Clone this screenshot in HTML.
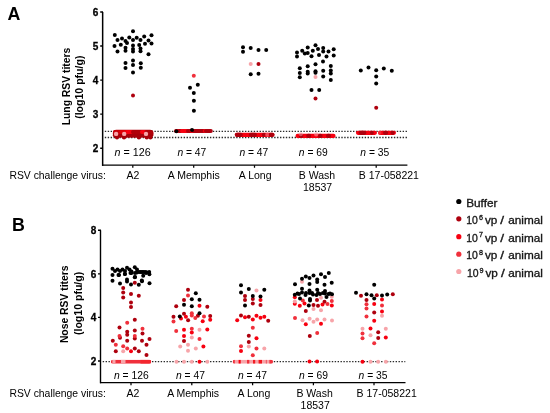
<!DOCTYPE html>
<html><head><meta charset="utf-8"><style>html,body{margin:0;padding:0;background:#fff;width:550px;height:413px;overflow:hidden}svg{display:block;will-change:transform}</style></head>
<body>
<svg width="550" height="413" viewBox="0 0 550 413">
<rect width="550" height="413" fill="#fff"/>
<g font-family="Liberation Sans, sans-serif">
<text x="7.4" y="19.5" font-size="17.8" font-weight="bold">A</text>
<text x="12.0" y="230.7" font-size="17.8" font-weight="bold">B</text>
</g>
<g stroke="#000" stroke-width="1.4" fill="none">
<path d="M102.65 12 V165.85" stroke-width="1.5"/><path d="M102 165.2 H407.4" stroke-width="1.3"/>
<path d="M100.2 12 H103 M100.2 46.05 H103 M100.2 80.1 H103 M100.2 114.15 H103 M100.2 148.2 H103"/>
<path d="M132.8 165.2 V167.8 M193.7 165.2 V167.8 M254.5 165.2 V167.8 M315.5 165.2 V167.8 M376.2 165.2 V167.8" stroke-width="1.25"/>
</g>
<g stroke="#2a2a2a" stroke-width="1.4" stroke-dasharray="1.4 1.52" fill="none">
<path d="M104.8 131.35 H407 M104.8 137.45 H407"/>
</g>
<g font-family="Liberation Sans, sans-serif" font-size="10" font-weight="bold" text-anchor="end" stroke="#000" stroke-width="0.3">
<text x="98.4" y="15.8">6</text><text x="98.4" y="49.8">5</text><text x="98.4" y="83.9">4</text><text x="98.4" y="117.9">3</text><text x="98.4" y="151.9">2</text>
</g>
<g font-family="Liberation Sans, sans-serif" font-size="10.2" font-weight="bold" text-anchor="middle">
<text transform="translate(70.3 86.5) rotate(-90)" font-size="10.35">Lung RSV titers</text>
<text transform="translate(82.9 87.2) rotate(-90)" font-size="10.55">(log10 pfu/g)</text>
</g>
<g font-family="Liberation Sans, sans-serif" font-size="10.5">
<text x="9.4" y="178.6" font-size="10.4">RSV challenge virus:</text>
<text x="114.6" y="156.2" font-size="10.3" textLength="36.1" lengthAdjust="spacingAndGlyphs"><tspan font-style="italic">n</tspan> = 126</text>
<text x="177.4" y="156.2" font-size="10.3"><tspan font-style="italic">n</tspan> = 47</text>
<text x="239.4" y="156.2" font-size="10.3"><tspan font-style="italic">n</tspan> = 47</text>
<text x="298.8" y="156.2" font-size="10.3"><tspan font-style="italic">n</tspan> = 69</text>
<text x="360.3" y="156.2" font-size="10.3"><tspan font-style="italic">n</tspan> = 35</text>
<text x="126.6" y="178.5">A2</text>
<text x="167.8" y="178.5">A Memphis</text>
<text x="238.8" y="178.5">A Long</text>
<text x="298.8" y="178.5">B Wash</text>
<text x="303.0" y="191">18537</text>
<text x="358.8" y="178.5">B 17-058221</text>
</g>
<rect x="112.8" y="129.8" width="40.8" height="7.6" rx="3.6" fill="#b4000c"/>
<circle cx="115.0" cy="135.3" r="2.1" fill="#a8000a"/>
<circle cx="116.5" cy="135.3" r="2.1" fill="#a8000a"/>
<circle cx="118.0" cy="135.3" r="2.1" fill="#a8000a"/>
<circle cx="119.5" cy="135.3" r="2.1" fill="#a8000a"/>
<circle cx="121.0" cy="135.3" r="2.1" fill="#a8000a"/>
<circle cx="122.5" cy="135.3" r="2.1" fill="#a8000a"/>
<circle cx="124.0" cy="135.3" r="2.1" fill="#a8000a"/>
<circle cx="125.5" cy="135.3" r="2.1" fill="#a8000a"/>
<circle cx="127.0" cy="135.3" r="2.1" fill="#a8000a"/>
<circle cx="128.5" cy="135.3" r="2.1" fill="#a8000a"/>
<circle cx="130.0" cy="135.3" r="2.1" fill="#a8000a"/>
<circle cx="131.5" cy="135.3" r="2.1" fill="#a8000a"/>
<circle cx="133.0" cy="135.3" r="2.1" fill="#a8000a"/>
<circle cx="134.5" cy="135.3" r="2.1" fill="#a8000a"/>
<circle cx="136.0" cy="135.3" r="2.1" fill="#a8000a"/>
<circle cx="137.5" cy="135.3" r="2.1" fill="#a8000a"/>
<circle cx="139.0" cy="135.3" r="2.1" fill="#a8000a"/>
<circle cx="140.5" cy="135.3" r="2.1" fill="#a8000a"/>
<circle cx="142.0" cy="135.3" r="2.1" fill="#a8000a"/>
<circle cx="143.5" cy="135.3" r="2.1" fill="#a8000a"/>
<circle cx="145.0" cy="135.3" r="2.1" fill="#a8000a"/>
<circle cx="146.5" cy="135.3" r="2.1" fill="#a8000a"/>
<circle cx="148.0" cy="135.3" r="2.1" fill="#a8000a"/>
<circle cx="149.5" cy="135.3" r="2.1" fill="#a8000a"/>
<circle cx="151.0" cy="135.3" r="2.1" fill="#a8000a"/>
<circle cx="117.0" cy="137.4" r="2.1" fill="#a8000a"/>
<circle cx="124.0" cy="137.4" r="2.1" fill="#a8000a"/>
<circle cx="138.9" cy="137.4" r="2.1" fill="#a8000a"/>
<circle cx="146.8" cy="137.4" r="2.1" fill="#a8000a"/>
<circle cx="150.4" cy="137.4" r="2.1" fill="#a8000a"/>
<circle cx="115.0" cy="131.9" r="2.0" fill="#c8000c"/>
<circle cx="116.5" cy="131.9" r="2.0" fill="#c8000c"/>
<circle cx="118.0" cy="131.9" r="2.0" fill="#c8000c"/>
<circle cx="119.5" cy="131.9" r="2.0" fill="#c8000c"/>
<circle cx="121.0" cy="131.9" r="2.0" fill="#e00008"/>
<circle cx="122.5" cy="131.9" r="2.0" fill="#e00008"/>
<circle cx="124.0" cy="131.9" r="2.0" fill="#e00008"/>
<circle cx="125.5" cy="131.9" r="2.0" fill="#e00008"/>
<circle cx="127.0" cy="131.9" r="2.0" fill="#f70010"/>
<circle cx="128.5" cy="131.9" r="2.0" fill="#f70010"/>
<circle cx="130.0" cy="131.9" r="2.0" fill="#f70010"/>
<circle cx="131.5" cy="131.9" r="2.0" fill="#f70010"/>
<circle cx="133.0" cy="131.9" r="2.0" fill="#b0000a"/>
<circle cx="134.5" cy="131.9" r="2.0" fill="#b0000a"/>
<circle cx="136.0" cy="131.9" r="2.0" fill="#b0000a"/>
<circle cx="137.5" cy="131.9" r="2.0" fill="#b0000a"/>
<circle cx="139.0" cy="131.9" r="2.0" fill="#b0000a"/>
<circle cx="140.5" cy="131.9" r="2.0" fill="#b0000a"/>
<circle cx="142.0" cy="131.9" r="2.0" fill="#f70010"/>
<circle cx="143.5" cy="131.9" r="2.0" fill="#f70010"/>
<circle cx="145.0" cy="131.9" r="2.0" fill="#f70010"/>
<circle cx="146.5" cy="131.9" r="2.0" fill="#b0000a"/>
<circle cx="148.0" cy="131.9" r="2.0" fill="#b0000a"/>
<circle cx="149.5" cy="131.9" r="2.0" fill="#b0000a"/>
<circle cx="151.0" cy="131.9" r="2.0" fill="#b0000a"/>
<circle cx="116.1" cy="133.9" r="2.2" fill="#f7a4a9"/>
<circle cx="124.2" cy="133.9" r="2.2" fill="#f7a4a9"/>
<circle cx="146.0" cy="133.9" r="2.2" fill="#f7a4a9"/>
<circle cx="176.0" cy="131.1" r="2.0" fill="#f70010"/>
<circle cx="177.2" cy="131.1" r="2.0" fill="#f70010"/>
<circle cx="178.4" cy="131.1" r="2.0" fill="#f70010"/>
<circle cx="179.6" cy="131.1" r="2.0" fill="#ae000e"/>
<circle cx="180.8" cy="131.1" r="2.0" fill="#ae000e"/>
<circle cx="182.0" cy="131.1" r="2.0" fill="#f70010"/>
<circle cx="183.2" cy="131.1" r="2.0" fill="#f70010"/>
<circle cx="184.4" cy="131.1" r="2.0" fill="#f70010"/>
<circle cx="185.6" cy="131.1" r="2.0" fill="#f70010"/>
<circle cx="186.8" cy="131.1" r="2.0" fill="#f70010"/>
<circle cx="188.0" cy="131.1" r="2.0" fill="#ae000e"/>
<circle cx="189.2" cy="131.1" r="2.0" fill="#ae000e"/>
<circle cx="190.4" cy="131.1" r="2.0" fill="#ae000e"/>
<circle cx="191.6" cy="131.1" r="2.0" fill="#f70010"/>
<circle cx="192.8" cy="131.1" r="2.0" fill="#f70010"/>
<circle cx="194.0" cy="131.1" r="2.0" fill="#ae000e"/>
<circle cx="195.2" cy="131.1" r="2.0" fill="#ae000e"/>
<circle cx="196.4" cy="131.1" r="2.0" fill="#ae000e"/>
<circle cx="197.6" cy="131.1" r="2.0" fill="#ae000e"/>
<circle cx="198.8" cy="131.1" r="2.0" fill="#ae000e"/>
<circle cx="200.0" cy="131.1" r="2.0" fill="#ae000e"/>
<circle cx="201.2" cy="131.1" r="2.0" fill="#ae000e"/>
<circle cx="202.4" cy="131.1" r="2.0" fill="#ae000e"/>
<circle cx="203.6" cy="131.1" r="2.0" fill="#ae000e"/>
<circle cx="204.8" cy="131.1" r="2.0" fill="#f70010"/>
<circle cx="206.0" cy="131.1" r="2.0" fill="#ae000e"/>
<circle cx="207.2" cy="131.1" r="2.0" fill="#ae000e"/>
<circle cx="208.4" cy="131.1" r="2.0" fill="#ae000e"/>
<circle cx="209.6" cy="131.1" r="2.0" fill="#ae000e"/>
<circle cx="210.8" cy="131.1" r="2.0" fill="#ae000e"/>
<circle cx="176.4" cy="131.2" r="2.0" fill="#000"/>
<circle cx="192.0" cy="130.0" r="2.0" fill="#000"/>
<rect x="234.8" y="132.70" width="39.70" height="4.2" rx="2.1" fill="#f70010"/>
<rect x="234.8" y="132.70" width="7.90" height="4.2" rx="2.1" fill="#ae000e"/>
<rect x="248.8" y="132.70" width="8.20" height="4.2" rx="2.1" fill="#ae000e"/>
<rect x="261.8" y="132.70" width="4.00" height="4.2" rx="2.1" fill="#ae000e"/>
<rect x="265.2" y="132.70" width="4.20" height="4.2" rx="2.1" fill="#f34a58"/>
<rect x="268.8" y="132.70" width="5.70" height="4.2" rx="2.1" fill="#ae000e"/>
<rect x="295.5" y="133.80" width="40.10" height="4.2" rx="2.1" fill="#f70010"/>
<rect x="298.8" y="133.80" width="4.60" height="4.2" rx="2.1" fill="#ae000e"/>
<rect x="306.2" y="133.80" width="5.00" height="4.2" rx="2.1" fill="#ae000e"/>
<rect x="317.8" y="133.80" width="4.80" height="4.2" rx="2.1" fill="#ae000e"/>
<rect x="326" y="133.80" width="5.00" height="4.2" rx="2.1" fill="#ae000e"/>
<circle cx="300.8" cy="134.2" r="2.0" fill="rgba(248,150,160,0.55)"/>
<circle cx="316.2" cy="134.4" r="2.1" fill="rgba(248,150,160,0.6)"/>
<rect x="355.9" y="130.70" width="21.10" height="4.2" rx="2.1" fill="#f70010"/>
<rect x="358.5" y="130.70" width="7.90" height="4.2" rx="2.1" fill="#ae000e"/>
<rect x="369.9" y="130.70" width="3.90" height="4.2" rx="2.1" fill="#ae000e"/>
<rect x="378.0" y="130.70" width="18.00" height="4.2" rx="2.1" fill="#f70010"/>
<rect x="378.0" y="130.70" width="3.50" height="4.2" rx="2.1" fill="#f42a36"/>
<rect x="383" y="130.70" width="5.20" height="4.2" rx="2.1" fill="#ae000e"/>
<rect x="390.4" y="130.70" width="4.40" height="4.2" rx="2.1" fill="#ae000e"/>
<circle cx="133.0" cy="95.5" r="2.0" fill="#ae000e"/>
<circle cx="193.8" cy="75.7" r="2.0" fill="#f0303c"/>
<circle cx="250.7" cy="64.0" r="2.0" fill="#f7a4a9"/>
<circle cx="258.5" cy="64.0" r="2.0" fill="#ae000e"/>
<circle cx="315.5" cy="77.0" r="2.0" fill="#f7a4a9"/>
<circle cx="315.5" cy="98.5" r="2.0" fill="#ae000e"/>
<circle cx="376.2" cy="107.7" r="2.0" fill="#ae000e"/>
<circle cx="133.0" cy="31.2" r="2.0" fill="#000"/>
<circle cx="114.8" cy="35.0" r="2.0" fill="#000"/>
<circle cx="151.5" cy="35.3" r="2.0" fill="#000"/>
<circle cx="117.5" cy="40.0" r="2.0" fill="#000"/>
<circle cx="122.0" cy="38.5" r="2.0" fill="#000"/>
<circle cx="129.3" cy="37.5" r="2.0" fill="#000"/>
<circle cx="136.7" cy="37.8" r="2.0" fill="#000"/>
<circle cx="144.2" cy="36.5" r="2.0" fill="#000"/>
<circle cx="125.5" cy="41.0" r="2.0" fill="#000"/>
<circle cx="127.0" cy="43.0" r="2.0" fill="#000"/>
<circle cx="133.0" cy="40.0" r="2.0" fill="#000"/>
<circle cx="140.5" cy="40.0" r="2.0" fill="#000"/>
<circle cx="148.5" cy="40.5" r="2.0" fill="#000"/>
<circle cx="145.0" cy="43.8" r="2.0" fill="#000"/>
<circle cx="151.5" cy="43.5" r="2.0" fill="#000"/>
<circle cx="114.5" cy="46.0" r="2.0" fill="#000"/>
<circle cx="120.8" cy="44.7" r="2.0" fill="#000"/>
<circle cx="133.0" cy="45.5" r="2.0" fill="#000"/>
<circle cx="139.2" cy="45.0" r="2.0" fill="#000"/>
<circle cx="125.5" cy="47.8" r="2.0" fill="#000"/>
<circle cx="125.5" cy="50.8" r="2.0" fill="#000"/>
<circle cx="133.0" cy="49.0" r="2.0" fill="#000"/>
<circle cx="133.0" cy="51.5" r="2.0" fill="#000"/>
<circle cx="140.5" cy="48.5" r="2.0" fill="#000"/>
<circle cx="140.5" cy="51.2" r="2.0" fill="#000"/>
<circle cx="117.5" cy="51.5" r="2.0" fill="#000"/>
<circle cx="148.5" cy="54.3" r="2.0" fill="#000"/>
<circle cx="133.0" cy="60.5" r="2.0" fill="#000"/>
<circle cx="125.5" cy="63.0" r="2.0" fill="#000"/>
<circle cx="140.8" cy="63.3" r="2.0" fill="#000"/>
<circle cx="133.0" cy="65.0" r="2.0" fill="#000"/>
<circle cx="125.5" cy="68.0" r="2.0" fill="#000"/>
<circle cx="140.8" cy="67.7" r="2.0" fill="#000"/>
<circle cx="133.0" cy="72.5" r="2.0" fill="#000"/>
<circle cx="197.8" cy="84.8" r="2.0" fill="#000"/>
<circle cx="190.0" cy="87.7" r="2.0" fill="#000"/>
<circle cx="193.8" cy="93.0" r="2.0" fill="#000"/>
<circle cx="193.9" cy="100.7" r="2.0" fill="#000"/>
<circle cx="193.9" cy="110.8" r="2.0" fill="#000"/>
<circle cx="243.0" cy="47.2" r="2.0" fill="#000"/>
<circle cx="243.0" cy="51.8" r="2.0" fill="#000"/>
<circle cx="250.7" cy="48.0" r="2.0" fill="#000"/>
<circle cx="258.5" cy="50.0" r="2.0" fill="#000"/>
<circle cx="266.2" cy="50.0" r="2.0" fill="#000"/>
<circle cx="250.7" cy="74.2" r="2.0" fill="#000"/>
<circle cx="258.5" cy="73.8" r="2.0" fill="#000"/>
<circle cx="315.5" cy="45.2" r="2.0" fill="#000"/>
<circle cx="307.7" cy="47.5" r="2.0" fill="#000"/>
<circle cx="323.2" cy="48.0" r="2.0" fill="#000"/>
<circle cx="318.0" cy="49.0" r="2.0" fill="#000"/>
<circle cx="333.7" cy="49.2" r="2.0" fill="#000"/>
<circle cx="302.2" cy="50.8" r="2.0" fill="#000"/>
<circle cx="297.0" cy="52.5" r="2.0" fill="#000"/>
<circle cx="312.8" cy="50.8" r="2.0" fill="#000"/>
<circle cx="304.8" cy="53.5" r="2.0" fill="#000"/>
<circle cx="307.7" cy="53.0" r="2.0" fill="#000"/>
<circle cx="323.2" cy="51.5" r="2.0" fill="#000"/>
<circle cx="328.5" cy="51.5" r="2.0" fill="#000"/>
<circle cx="297.0" cy="56.5" r="2.0" fill="#000"/>
<circle cx="311.5" cy="56.2" r="2.0" fill="#000"/>
<circle cx="319.0" cy="55.0" r="2.0" fill="#000"/>
<circle cx="326.5" cy="56.5" r="2.0" fill="#000"/>
<circle cx="333.7" cy="55.5" r="2.0" fill="#000"/>
<circle cx="323.0" cy="61.5" r="2.0" fill="#000"/>
<circle cx="315.5" cy="64.2" r="2.0" fill="#000"/>
<circle cx="307.7" cy="66.2" r="2.0" fill="#000"/>
<circle cx="330.8" cy="66.0" r="2.0" fill="#000"/>
<circle cx="299.8" cy="68.3" r="2.0" fill="#000"/>
<circle cx="299.8" cy="73.0" r="2.0" fill="#000"/>
<circle cx="299.8" cy="77.2" r="2.0" fill="#000"/>
<circle cx="307.7" cy="71.8" r="2.0" fill="#000"/>
<circle cx="307.7" cy="73.5" r="2.0" fill="#000"/>
<circle cx="315.5" cy="71.2" r="2.0" fill="#000"/>
<circle cx="315.5" cy="72.8" r="2.0" fill="#000"/>
<circle cx="323.2" cy="70.8" r="2.0" fill="#000"/>
<circle cx="323.2" cy="76.5" r="2.0" fill="#000"/>
<circle cx="330.8" cy="70.5" r="2.0" fill="#000"/>
<circle cx="330.8" cy="73.5" r="2.0" fill="#000"/>
<circle cx="330.8" cy="80.0" r="2.0" fill="#000"/>
<circle cx="311.5" cy="90.0" r="2.0" fill="#000"/>
<circle cx="319.2" cy="90.0" r="2.0" fill="#000"/>
<circle cx="360.8" cy="70.5" r="2.0" fill="#000"/>
<circle cx="368.5" cy="67.5" r="2.0" fill="#000"/>
<circle cx="376.2" cy="70.2" r="2.0" fill="#000"/>
<circle cx="383.8" cy="68.5" r="2.0" fill="#000"/>
<circle cx="391.8" cy="70.7" r="2.0" fill="#000"/>
<circle cx="376.2" cy="76.5" r="2.0" fill="#000"/>
<circle cx="376.2" cy="83.5" r="2.0" fill="#000"/>
<g stroke="#000" stroke-width="1.4" fill="none">
<path d="M100.5 230.3 V383.25"/><path d="M100 382.6 H405.5" stroke-width="1.3"/>
<path d="M98 230.3 H101 M98 273.9 H101 M98 317.4 H101 M98 361.0 H101"/>
<path d="M131 382.6 V385.2 M191.8 382.6 V385.2 M252.6 382.6 V385.2 M313.4 382.6 V385.2 M374 382.6 V385.2" stroke-width="1.25"/>
</g>
<g stroke="#2a2a2a" stroke-width="1.4" stroke-dasharray="1.4 1.5" fill="none">
<path d="M102.7 361.6 H405.3"/>
</g>
<g font-family="Liberation Sans, sans-serif" font-size="10" font-weight="bold" text-anchor="end" stroke="#000" stroke-width="0.3">
<text x="96.4" y="234">8</text><text x="96.4" y="277.6">6</text><text x="96.4" y="321.1">4</text><text x="96.4" y="364.7">2</text>
</g>
<g font-family="Liberation Sans, sans-serif" font-size="10.2" font-weight="bold" text-anchor="middle">
<text transform="translate(68.1 304.3) rotate(-90)" font-size="10.35">Nose RSV titers</text>
<text transform="translate(81.8 303.4) rotate(-90)" font-size="10.55">(log10 pfu/g)</text>
</g>
<g font-family="Liberation Sans, sans-serif" font-size="10.5">
<text x="9.4" y="397" font-size="10.4">RSV challenge virus:</text>
<text x="114" y="378.5" font-size="10.3"><tspan font-style="italic">n</tspan> = 126</text>
<text x="176" y="378.5" font-size="10.3"><tspan font-style="italic">n</tspan> = 47</text>
<text x="238" y="378.5" font-size="10.3"><tspan font-style="italic">n</tspan> = 47</text>
<text x="299" y="378.5" font-size="10.3"><tspan font-style="italic">n</tspan> = 69</text>
<text x="358.6" y="378.5" font-size="10.3"><tspan font-style="italic">n</tspan> = 35</text>
<text x="126.6" y="397">A2</text>
<text x="167.2" y="397.4">A Memphis</text>
<text x="237.6" y="397">A Long</text>
<text x="296.4" y="397">B Wash</text>
<text x="300.6" y="408.9">18537</text>
<text x="356.6" y="397">B 17-058221</text>
</g>
<clipPath id="cb1"><rect x="110.8" y="359.7" width="40.500000000000014" height="4.0" rx="2.0"/></clipPath>
<g clip-path="url(#cb1)"><rect x="110.8" y="359.7" width="40.500000000000014" height="4.0" fill="#f0303c"/>
<rect x="112.4" y="359.7" width="3.10" height="4.0" fill="#f7a4a9"/>
<rect x="121" y="359.7" width="4.50" height="4.0" fill="#f7a4a9"/>
<rect x="140.5" y="359.7" width="10.80" height="4.0" fill="#f3262e"/>
</g>
<clipPath id="cb2"><rect x="232.6" y="359.7" width="40.400000000000006" height="4.0" rx="2.0"/></clipPath>
<g clip-path="url(#cb2)"><rect x="232.6" y="359.7" width="40.400000000000006" height="4.0" fill="#f7a4a9"/>
<rect x="232.6" y="359.7" width="2.20" height="4.0" fill="#f0303c"/>
<rect x="238.6" y="359.7" width="2.10" height="4.0" fill="#f70010"/>
<rect x="247" y="359.7" width="2.30" height="4.0" fill="#f0303c"/>
<rect x="253" y="359.7" width="2.20" height="4.0" fill="#f21a22"/>
<rect x="258.6" y="359.7" width="3.40" height="4.0" fill="#f2161e"/>
<rect x="265.8" y="359.7" width="1.20" height="4.0" fill="#f2606a"/>
<rect x="269.4" y="359.7" width="3.60" height="4.0" fill="#f0303c"/>
</g>
<circle cx="134.8" cy="282.8" r="2.0" fill="#ae000e"/>
<circle cx="123.2" cy="288.0" r="2.0" fill="#ae000e"/>
<circle cx="123.2" cy="292.5" r="2.0" fill="#ae000e"/>
<circle cx="123.2" cy="297.5" r="2.0" fill="#ae000e"/>
<circle cx="131.0" cy="294.1" r="2.0" fill="#ae000e"/>
<circle cx="138.8" cy="295.8" r="2.0" fill="#ae000e"/>
<circle cx="131.0" cy="302.5" r="2.0" fill="#ae000e"/>
<circle cx="131.0" cy="307.0" r="2.0" fill="#ae000e"/>
<circle cx="134.8" cy="319.8" r="2.0" fill="#ae000e"/>
<circle cx="119.5" cy="327.5" r="2.0" fill="#ae000e"/>
<circle cx="127.2" cy="331.8" r="2.0" fill="#ae000e"/>
<circle cx="127.2" cy="334.8" r="2.0" fill="#ae000e"/>
<circle cx="134.8" cy="330.5" r="2.0" fill="#ae000e"/>
<circle cx="142.5" cy="333.5" r="2.0" fill="#ae000e"/>
<circle cx="120.0" cy="337.8" r="2.0" fill="#ae000e"/>
<circle cx="134.8" cy="338.5" r="2.0" fill="#ae000e"/>
<circle cx="112.8" cy="340.8" r="2.0" fill="#ae000e"/>
<circle cx="127.2" cy="340.8" r="2.0" fill="#ae000e"/>
<circle cx="142.0" cy="340.8" r="2.0" fill="#ae000e"/>
<circle cx="149.5" cy="339.0" r="2.0" fill="#ae000e"/>
<circle cx="146.5" cy="344.8" r="2.0" fill="#ae000e"/>
<circle cx="134.8" cy="348.5" r="2.0" fill="#ae000e"/>
<circle cx="115.8" cy="351.2" r="2.0" fill="#ae000e"/>
<circle cx="138.8" cy="351.2" r="2.0" fill="#ae000e"/>
<circle cx="146.5" cy="355.0" r="2.0" fill="#ae000e"/>
<circle cx="188.0" cy="289.8" r="2.0" fill="#ae000e"/>
<circle cx="184.0" cy="300.0" r="2.0" fill="#ae000e"/>
<circle cx="176.2" cy="306.3" r="2.0" fill="#ae000e"/>
<circle cx="207.3" cy="306.8" r="2.0" fill="#ae000e"/>
<circle cx="184.0" cy="313.7" r="2.0" fill="#ae000e"/>
<circle cx="197.9" cy="315.8" r="2.0" fill="#ae000e"/>
<circle cx="173.5" cy="316.8" r="2.0" fill="#ae000e"/>
<circle cx="210.2" cy="316.1" r="2.0" fill="#ae000e"/>
<circle cx="188.1" cy="320.3" r="2.0" fill="#ae000e"/>
<circle cx="184.0" cy="341.0" r="2.0" fill="#ae000e"/>
<circle cx="245.0" cy="296.0" r="2.0" fill="#ae000e"/>
<circle cx="245.0" cy="300.0" r="2.0" fill="#ae000e"/>
<circle cx="252.8" cy="299.0" r="2.0" fill="#ae000e"/>
<circle cx="252.8" cy="303.5" r="2.0" fill="#ae000e"/>
<circle cx="260.5" cy="305.0" r="2.0" fill="#ae000e"/>
<circle cx="241.0" cy="315.5" r="2.0" fill="#ae000e"/>
<circle cx="248.8" cy="316.8" r="2.0" fill="#ae000e"/>
<circle cx="268.2" cy="320.7" r="2.0" fill="#ae000e"/>
<circle cx="248.8" cy="335.7" r="2.0" fill="#ae000e"/>
<circle cx="248.8" cy="342.0" r="2.0" fill="#ae000e"/>
<circle cx="317.0" cy="300.0" r="2.0" fill="#ae000e"/>
<circle cx="313.5" cy="305.0" r="2.0" fill="#ae000e"/>
<circle cx="318.0" cy="305.8" r="2.0" fill="#ae000e"/>
<circle cx="324.5" cy="301.8" r="2.0" fill="#ae000e"/>
<circle cx="305.8" cy="311.0" r="2.0" fill="#ae000e"/>
<circle cx="309.8" cy="336.0" r="2.0" fill="#ae000e"/>
<circle cx="361.0" cy="295.8" r="2.0" fill="#ae000e"/>
<circle cx="376.8" cy="295.2" r="2.0" fill="#ae000e"/>
<circle cx="392.8" cy="294.2" r="2.0" fill="#ae000e"/>
<circle cx="366.5" cy="300.0" r="2.0" fill="#ae000e"/>
<circle cx="374.2" cy="312.5" r="2.0" fill="#ae000e"/>
<circle cx="378.2" cy="332.2" r="2.0" fill="#ae000e"/>
<circle cx="378.2" cy="338.1" r="2.0" fill="#ae000e"/>
<circle cx="131.0" cy="351.2" r="2.0" fill="#f70010"/>
<circle cx="199.5" cy="305.7" r="2.0" fill="#f70010"/>
<circle cx="185.9" cy="316.8" r="2.0" fill="#f70010"/>
<circle cx="181.0" cy="318.5" r="2.0" fill="#f70010"/>
<circle cx="202.7" cy="321.2" r="2.0" fill="#f70010"/>
<circle cx="210.2" cy="319.8" r="2.0" fill="#f70010"/>
<circle cx="184.0" cy="329.8" r="2.0" fill="#f70010"/>
<circle cx="191.8" cy="332.5" r="2.0" fill="#f70010"/>
<circle cx="207.3" cy="329.5" r="2.0" fill="#f70010"/>
<circle cx="184.0" cy="336.0" r="2.0" fill="#f70010"/>
<circle cx="203.4" cy="346.4" r="2.0" fill="#f70010"/>
<circle cx="260.5" cy="300.0" r="2.0" fill="#f70010"/>
<circle cx="245.0" cy="317.2" r="2.0" fill="#f70010"/>
<circle cx="256.5" cy="315.7" r="2.0" fill="#f70010"/>
<circle cx="260.5" cy="317.8" r="2.0" fill="#f70010"/>
<circle cx="264.3" cy="316.8" r="2.0" fill="#f70010"/>
<circle cx="237.2" cy="320.3" r="2.0" fill="#f70010"/>
<circle cx="252.8" cy="319.5" r="2.0" fill="#f70010"/>
<circle cx="256.5" cy="338.2" r="2.0" fill="#f70010"/>
<circle cx="241.0" cy="351.0" r="2.0" fill="#f70010"/>
<circle cx="294.8" cy="303.8" r="2.0" fill="#f70010"/>
<circle cx="304.5" cy="303.5" r="2.0" fill="#f70010"/>
<circle cx="299.8" cy="305.8" r="2.0" fill="#f70010"/>
<circle cx="322.5" cy="304.5" r="2.0" fill="#f70010"/>
<circle cx="331.8" cy="305.5" r="2.0" fill="#f70010"/>
<circle cx="305.8" cy="324.3" r="2.0" fill="#f70010"/>
<circle cx="321.0" cy="323.8" r="2.0" fill="#f70010"/>
<circle cx="294.8" cy="297.2" r="2.0" fill="#f70010"/>
<circle cx="309.5" cy="361.5" r="2.0" fill="#f70010"/>
<circle cx="317.1" cy="361.5" r="2.0" fill="#f70010"/>
<circle cx="382.0" cy="299.5" r="2.0" fill="#f70010"/>
<circle cx="374.2" cy="304.0" r="2.0" fill="#f70010"/>
<circle cx="382.0" cy="311.5" r="2.0" fill="#f70010"/>
<circle cx="374.2" cy="320.8" r="2.0" fill="#f70010"/>
<circle cx="370.5" cy="328.5" r="2.0" fill="#f70010"/>
<circle cx="385.8" cy="337.5" r="2.0" fill="#f70010"/>
<circle cx="362.5" cy="361.7" r="2.0" fill="#f70010"/>
<circle cx="199.5" cy="361.7" r="2.0" fill="#f70010"/>
<circle cx="127.2" cy="322.8" r="2.0" fill="#f0303c"/>
<circle cx="142.5" cy="328.7" r="2.0" fill="#f0303c"/>
<circle cx="119.5" cy="336.0" r="2.0" fill="#f0303c"/>
<circle cx="134.8" cy="336.0" r="2.0" fill="#f0303c"/>
<circle cx="115.8" cy="344.8" r="2.0" fill="#f0303c"/>
<circle cx="123.2" cy="346.3" r="2.0" fill="#f0303c"/>
<circle cx="127.2" cy="348.5" r="2.0" fill="#f0303c"/>
<circle cx="188.0" cy="295.5" r="2.0" fill="#f0303c"/>
<circle cx="191.8" cy="313.3" r="2.0" fill="#f0303c"/>
<circle cx="191.8" cy="315.6" r="2.0" fill="#f0303c"/>
<circle cx="204.0" cy="316.5" r="2.0" fill="#f0303c"/>
<circle cx="195.3" cy="318.1" r="2.0" fill="#f0303c"/>
<circle cx="173.5" cy="321.5" r="2.0" fill="#f0303c"/>
<circle cx="176.2" cy="331.0" r="2.0" fill="#f0303c"/>
<circle cx="191.8" cy="328.8" r="2.0" fill="#f0303c"/>
<circle cx="199.5" cy="339.0" r="2.0" fill="#f0303c"/>
<circle cx="252.8" cy="327.8" r="2.0" fill="#f0303c"/>
<circle cx="241.0" cy="346.3" r="2.0" fill="#f0303c"/>
<circle cx="256.5" cy="348.5" r="2.0" fill="#f0303c"/>
<circle cx="252.8" cy="355.2" r="2.0" fill="#f0303c"/>
<circle cx="302.8" cy="300.5" r="2.0" fill="#f0303c"/>
<circle cx="327.5" cy="304.0" r="2.0" fill="#f0303c"/>
<circle cx="331.8" cy="301.0" r="2.0" fill="#f0303c"/>
<circle cx="317.2" cy="333.0" r="2.0" fill="#f0303c"/>
<circle cx="295.0" cy="318.1" r="2.0" fill="#f0303c"/>
<circle cx="366.5" cy="304.2" r="2.0" fill="#f0303c"/>
<circle cx="382.0" cy="305.5" r="2.0" fill="#f0303c"/>
<circle cx="366.5" cy="308.4" r="2.0" fill="#f0303c"/>
<circle cx="366.5" cy="316.6" r="2.0" fill="#f0303c"/>
<circle cx="362.5" cy="333.5" r="2.0" fill="#f0303c"/>
<circle cx="362.5" cy="338.2" r="2.0" fill="#f0303c"/>
<circle cx="374.2" cy="343.2" r="2.0" fill="#f0303c"/>
<circle cx="123.2" cy="351.2" r="2.0" fill="#f7a4a9"/>
<circle cx="199.5" cy="329.8" r="2.0" fill="#f7a4a9"/>
<circle cx="191.8" cy="337.5" r="2.0" fill="#f7a4a9"/>
<circle cx="188.0" cy="344.8" r="2.0" fill="#f7a4a9"/>
<circle cx="180.2" cy="346.5" r="2.0" fill="#f7a4a9"/>
<circle cx="195.8" cy="348.4" r="2.0" fill="#f7a4a9"/>
<circle cx="188.0" cy="350.8" r="2.0" fill="#f7a4a9"/>
<circle cx="256.5" cy="290.5" r="2.0" fill="#f7a4a9"/>
<circle cx="248.8" cy="346.5" r="2.0" fill="#f7a4a9"/>
<circle cx="264.3" cy="348.4" r="2.0" fill="#f7a4a9"/>
<circle cx="302.0" cy="281.8" r="2.0" fill="#f7a4a9"/>
<circle cx="294.8" cy="301.5" r="2.0" fill="#f7a4a9"/>
<circle cx="321.0" cy="297.8" r="2.0" fill="#f7a4a9"/>
<circle cx="331.8" cy="296.8" r="2.0" fill="#f7a4a9"/>
<circle cx="313.5" cy="309.0" r="2.0" fill="#f7a4a9"/>
<circle cx="321.0" cy="310.2" r="2.0" fill="#f7a4a9"/>
<circle cx="302.5" cy="320.3" r="2.0" fill="#f7a4a9"/>
<circle cx="309.6" cy="318.8" r="2.0" fill="#f7a4a9"/>
<circle cx="313.5" cy="321.8" r="2.0" fill="#f7a4a9"/>
<circle cx="317.2" cy="319.5" r="2.0" fill="#f7a4a9"/>
<circle cx="324.5" cy="319.5" r="2.0" fill="#f7a4a9"/>
<circle cx="332.0" cy="320.5" r="2.0" fill="#f7a4a9"/>
<circle cx="382.0" cy="315.7" r="2.0" fill="#f7a4a9"/>
<circle cx="362.5" cy="328.8" r="2.0" fill="#f7a4a9"/>
<circle cx="385.8" cy="328.8" r="2.0" fill="#f7a4a9"/>
<circle cx="370.5" cy="335.2" r="2.0" fill="#f7a4a9"/>
<circle cx="370.5" cy="361.7" r="2.0" fill="#f7a4a9"/>
<circle cx="378.1" cy="361.7" r="2.0" fill="#f7a4a9"/>
<circle cx="385.9" cy="361.7" r="2.0" fill="#f7a4a9"/>
<circle cx="176.5" cy="361.7" r="2.0" fill="#f7a4a9"/>
<circle cx="184.0" cy="361.7" r="2.0" fill="#f7a4a9"/>
<circle cx="191.8" cy="361.7" r="2.0" fill="#f7a4a9"/>
<circle cx="207.3" cy="361.7" r="2.0" fill="#f7a4a9"/>
<circle cx="112.5" cy="268.8" r="2.0" fill="#000"/>
<circle cx="115.0" cy="271.0" r="2.0" fill="#000"/>
<circle cx="117.5" cy="269.5" r="2.0" fill="#000"/>
<circle cx="120.0" cy="271.0" r="2.0" fill="#000"/>
<circle cx="122.5" cy="269.5" r="2.0" fill="#000"/>
<circle cx="125.0" cy="271.0" r="2.0" fill="#000"/>
<circle cx="127.0" cy="267.8" r="2.0" fill="#000"/>
<circle cx="129.5" cy="269.5" r="2.0" fill="#000"/>
<circle cx="131.5" cy="271.5" r="2.0" fill="#000"/>
<circle cx="134.8" cy="267.2" r="2.0" fill="#000"/>
<circle cx="137.0" cy="269.6" r="2.0" fill="#000"/>
<circle cx="139.0" cy="271.9" r="2.0" fill="#000"/>
<circle cx="140.5" cy="272.1" r="2.0" fill="#000"/>
<circle cx="142.0" cy="272.0" r="2.0" fill="#000"/>
<circle cx="143.2" cy="272.1" r="2.0" fill="#000"/>
<circle cx="145.0" cy="272.0" r="2.0" fill="#000"/>
<circle cx="146.4" cy="272.2" r="2.0" fill="#000"/>
<circle cx="149.2" cy="272.0" r="2.0" fill="#000"/>
<circle cx="149.4" cy="274.2" r="2.0" fill="#000"/>
<circle cx="143.2" cy="275.7" r="2.0" fill="#000"/>
<circle cx="112.5" cy="275.0" r="2.0" fill="#000"/>
<circle cx="119.0" cy="275.0" r="2.0" fill="#000"/>
<circle cx="125.0" cy="274.0" r="2.0" fill="#000"/>
<circle cx="130.5" cy="273.0" r="2.0" fill="#000"/>
<circle cx="135.0" cy="273.0" r="2.0" fill="#000"/>
<circle cx="131.4" cy="273.0" r="2.0" fill="#000"/>
<circle cx="136.8" cy="272.5" r="2.0" fill="#000"/>
<circle cx="146.0" cy="273.0" r="2.0" fill="#000"/>
<circle cx="124.8" cy="274.1" r="2.0" fill="#000"/>
<circle cx="118.5" cy="275.0" r="2.0" fill="#000"/>
<circle cx="134.8" cy="277.2" r="2.0" fill="#000"/>
<circle cx="135.0" cy="277.1" r="2.0" fill="#000"/>
<circle cx="112.5" cy="280.8" r="2.0" fill="#000"/>
<circle cx="127.0" cy="279.5" r="2.0" fill="#000"/>
<circle cx="127.0" cy="281.5" r="2.0" fill="#000"/>
<circle cx="142.0" cy="281.3" r="2.0" fill="#000"/>
<circle cx="120.0" cy="283.6" r="2.0" fill="#000"/>
<circle cx="149.5" cy="283.2" r="2.0" fill="#000"/>
<circle cx="131.0" cy="284.5" r="2.0" fill="#000"/>
<circle cx="138.8" cy="284.7" r="2.0" fill="#000"/>
<circle cx="141.8" cy="280.5" r="2.0" fill="#000"/>
<circle cx="195.8" cy="293.3" r="2.0" fill="#000"/>
<circle cx="191.8" cy="299.3" r="2.0" fill="#000"/>
<circle cx="199.5" cy="299.8" r="2.0" fill="#000"/>
<circle cx="184.0" cy="304.7" r="2.0" fill="#000"/>
<circle cx="191.8" cy="306.2" r="2.0" fill="#000"/>
<circle cx="199.5" cy="313.3" r="2.0" fill="#000"/>
<circle cx="179.8" cy="316.4" r="2.0" fill="#000"/>
<circle cx="241.0" cy="285.2" r="2.0" fill="#000"/>
<circle cx="248.8" cy="289.0" r="2.0" fill="#000"/>
<circle cx="264.3" cy="289.7" r="2.0" fill="#000"/>
<circle cx="241.0" cy="292.5" r="2.0" fill="#000"/>
<circle cx="252.8" cy="296.0" r="2.0" fill="#000"/>
<circle cx="260.5" cy="296.5" r="2.0" fill="#000"/>
<circle cx="245.0" cy="305.5" r="2.0" fill="#000"/>
<circle cx="328.8" cy="273.0" r="2.0" fill="#000"/>
<circle cx="321.0" cy="274.2" r="2.0" fill="#000"/>
<circle cx="313.5" cy="275.5" r="2.0" fill="#000"/>
<circle cx="305.8" cy="276.5" r="2.0" fill="#000"/>
<circle cx="325.0" cy="277.0" r="2.0" fill="#000"/>
<circle cx="309.5" cy="278.0" r="2.0" fill="#000"/>
<circle cx="302.0" cy="278.8" r="2.0" fill="#000"/>
<circle cx="317.2" cy="279.5" r="2.0" fill="#000"/>
<circle cx="317.2" cy="282.0" r="2.0" fill="#000"/>
<circle cx="295.0" cy="284.2" r="2.0" fill="#000"/>
<circle cx="309.5" cy="284.0" r="2.0" fill="#000"/>
<circle cx="324.5" cy="284.8" r="2.0" fill="#000"/>
<circle cx="331.7" cy="282.8" r="2.0" fill="#000"/>
<circle cx="302.0" cy="288.8" r="2.0" fill="#000"/>
<circle cx="309.5" cy="290.4" r="2.0" fill="#000"/>
<circle cx="317.2" cy="289.7" r="2.0" fill="#000"/>
<circle cx="325.0" cy="291.0" r="2.0" fill="#000"/>
<circle cx="294.8" cy="294.8" r="2.0" fill="#000"/>
<circle cx="297.5" cy="293.5" r="2.0" fill="#000"/>
<circle cx="302.0" cy="292.5" r="2.0" fill="#000"/>
<circle cx="305.5" cy="295.0" r="2.0" fill="#000"/>
<circle cx="309.5" cy="293.0" r="2.0" fill="#000"/>
<circle cx="313.0" cy="294.5" r="2.0" fill="#000"/>
<circle cx="316.5" cy="295.0" r="2.0" fill="#000"/>
<circle cx="320.0" cy="294.0" r="2.0" fill="#000"/>
<circle cx="325.0" cy="293.5" r="2.0" fill="#000"/>
<circle cx="328.5" cy="294.0" r="2.0" fill="#000"/>
<circle cx="332.0" cy="294.2" r="2.0" fill="#000"/>
<circle cx="299.0" cy="294.0" r="2.0" fill="#000"/>
<circle cx="306.0" cy="293.0" r="2.0" fill="#000"/>
<circle cx="312.0" cy="293.0" r="2.0" fill="#000"/>
<circle cx="318.0" cy="293.0" r="2.0" fill="#000"/>
<circle cx="323.0" cy="293.0" r="2.0" fill="#000"/>
<circle cx="330.0" cy="293.5" r="2.0" fill="#000"/>
<circle cx="300.0" cy="298.5" r="2.0" fill="#000"/>
<circle cx="310.0" cy="299.0" r="2.0" fill="#000"/>
<circle cx="310.0" cy="300.5" r="2.0" fill="#000"/>
<circle cx="326.5" cy="297.0" r="2.0" fill="#000"/>
<circle cx="308.8" cy="305.5" r="2.0" fill="#000"/>
<circle cx="374.2" cy="284.8" r="2.0" fill="#000"/>
<circle cx="356.0" cy="292.8" r="2.0" fill="#000"/>
<circle cx="366.5" cy="294.2" r="2.0" fill="#000"/>
<circle cx="371.5" cy="295.2" r="2.0" fill="#000"/>
<circle cx="382.0" cy="295.5" r="2.0" fill="#000"/>
<circle cx="387.2" cy="294.5" r="2.0" fill="#000"/>
<circle cx="374.2" cy="298.5" r="2.0" fill="#000"/>
<circle cx="458.8" cy="201.5" r="2.6" fill="#000"/>
<circle cx="458.8" cy="218.8" r="2.6" fill="#ae000e"/>
<circle cx="458.8" cy="236.7" r="2.6" fill="#f70010"/>
<circle cx="458.8" cy="254.2" r="2.6" fill="#f0303c"/>
<circle cx="458.8" cy="271.5" r="2.6" fill="#f7a4a9"/>
<g font-family="Liberation Sans, sans-serif" font-size="10.4" fill="#141414" stroke="#141414" stroke-width="0.3">
<text x="466.2" y="206.9" textLength="31.2" lengthAdjust="spacingAndGlyphs">Buffer</text>
<text x="466.3" y="223.9" textLength="11.6" lengthAdjust="spacingAndGlyphs">10</text>
<text x="478.9" y="219.7" font-size="7.2">6</text>
<text x="484.9" y="223.9" textLength="12.4" lengthAdjust="spacingAndGlyphs">vp</text>
<text x="500.3" y="223.9" textLength="3.8" lengthAdjust="spacingAndGlyphs">/</text>
<text x="508.3" y="223.9" textLength="34.6" lengthAdjust="spacingAndGlyphs">animal</text>
<text x="466.3" y="241.5" textLength="11.6" lengthAdjust="spacingAndGlyphs">10</text>
<text x="478.9" y="237.3" font-size="7.2">7</text>
<text x="484.9" y="241.5" textLength="12.4" lengthAdjust="spacingAndGlyphs">vp</text>
<text x="500.3" y="241.5" textLength="3.8" lengthAdjust="spacingAndGlyphs">/</text>
<text x="508.3" y="241.5" textLength="34.6" lengthAdjust="spacingAndGlyphs">animal</text>
<text x="466.3" y="259.1" textLength="11.6" lengthAdjust="spacingAndGlyphs">10</text>
<text x="478.9" y="254.9" font-size="7.2">8</text>
<text x="484.9" y="259.1" textLength="12.4" lengthAdjust="spacingAndGlyphs">vp</text>
<text x="500.3" y="259.1" textLength="3.8" lengthAdjust="spacingAndGlyphs">/</text>
<text x="508.3" y="259.1" textLength="34.6" lengthAdjust="spacingAndGlyphs">animal</text>
<text x="466.9" y="276.7" textLength="11.6" lengthAdjust="spacingAndGlyphs">10</text>
<text x="479.5" y="272.5" font-size="7.2">9</text>
<text x="485.5" y="276.7" textLength="12.4" lengthAdjust="spacingAndGlyphs">vp</text>
<text x="500.9" y="276.7" textLength="3.8" lengthAdjust="spacingAndGlyphs">/</text>
<text x="508.3" y="276.7" textLength="34.6" lengthAdjust="spacingAndGlyphs">animal</text>
</g>
</svg>
</body></html>
